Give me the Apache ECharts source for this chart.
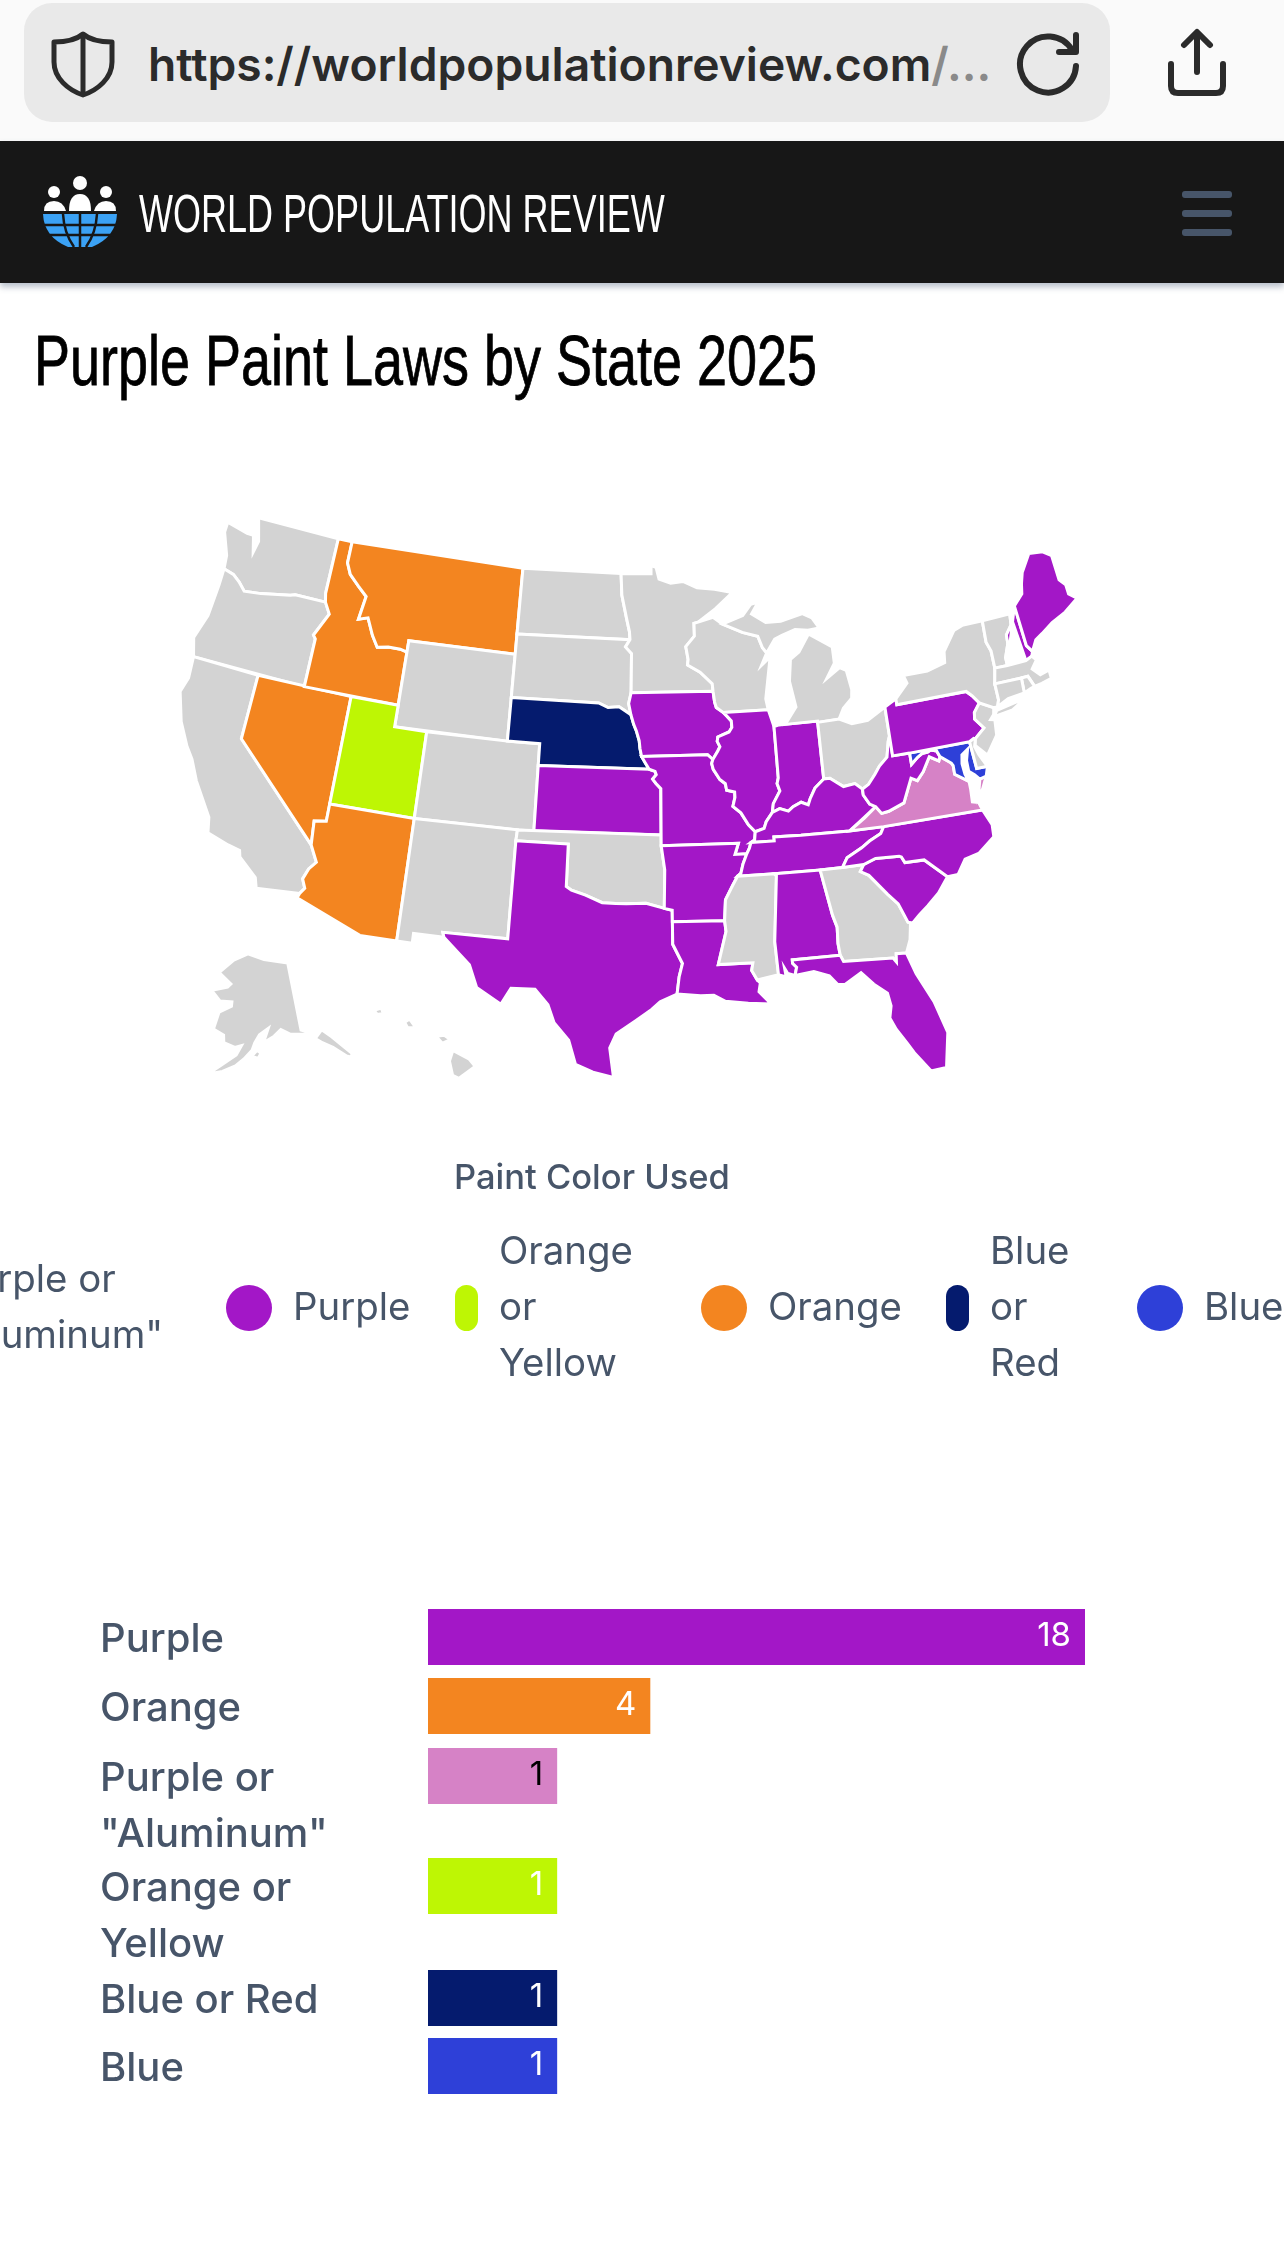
<!DOCTYPE html>
<html lang="en">
<head>
<meta charset="UTF-8">
<title>Purple Paint Laws by State 2025</title>
<script src="https://cdnjs.cloudflare.com/ajax/libs/echarts/6.0.0/echarts.min.js"></script>
<style>
  html,body{margin:0;padding:0;background:#fff;width:1284px;height:2255px;overflow:hidden}
  #chart{position:absolute;left:0;top:0;width:1284px;height:2255px}
  .browser{position:absolute;left:0;top:0;width:1284px;height:141px;background:#fafafa;z-index:2}
  .pill{position:absolute;left:24px;top:3px;width:1086px;height:119px;border-radius:28px;background:#e9e9e9}
  .url{position:absolute;left:148px;top:35px;font:600 46.2px/58px Inter;color:#2b2b2b;white-space:nowrap}
  .url span{color:#8a8a8a}
  .browser svg,.nav svg{position:absolute}
  .nav{position:absolute;left:0;top:141px;width:1284px;height:142px;background:#171717;box-shadow:0 4px 6px rgba(100,116,139,.45);z-index:2}
  .brand{position:absolute;left:139px;top:42px;font:400 54px/60px "Liberation Sans";color:#fff;white-space:nowrap;transform-origin:0 50%;transform:scaleX(0.667)}
  .bar{position:absolute;left:1182px;width:50px;height:7px;border-radius:3px;background:#475569}
</style>
</head>
<body>
<div class="browser">
  <div class="pill"></div>
  <svg style="left:48px;top:30px" width="70" height="68" viewBox="0 0 70 68" fill="none" stroke="#2b2b2b" stroke-width="5" stroke-linejoin="round">
    <path d="M35 4 C28 10 16 12 6 12 L6 32 C6 48 20 60 35 65 C50 60 64 48 64 32 L64 12 C54 12 42 10 35 4 Z"/><path d="M35 4 L35 65"/>
  </svg>
  <div class="url">https://worldpopulationreview.com<span>/...</span></div>
  <svg style="left:1014px;top:30px" width="68" height="66" viewBox="0 0 68 66" fill="none" stroke="#2b2b2b" stroke-width="6" stroke-linecap="round" stroke-linejoin="round">
    <path d="M58 20 A28 28 0 1 0 62 36"/><path d="M62 5 L62 22 L45 22"/>
  </svg>
  <svg style="left:1166px;top:28px" width="62" height="70" viewBox="0 0 62 70" fill="none" stroke="#2b2b2b" stroke-width="6" stroke-linecap="round" stroke-linejoin="round">
    <path d="M31 44 L31 5 M18 17 L31 4 L44 17"/><path d="M5 36 L5 58 Q5 65 12 65 L50 65 Q57 65 57 58 L57 36"/>
  </svg>
</div>
<div class="nav">
  <svg style="left:42px;top:34px" width="76" height="74" viewBox="0 0 76 74">
    <g fill="#fff"><circle cx="38" cy="8" r="7"/><circle cx="12" cy="17" r="6"/><circle cx="64" cy="17" r="6"/>
      <path d="M27 36 Q27 19 38 19 Q49 19 49 36 Z"/><path d="M2 36 Q2 26 12 26 Q21 26 24 36 Z"/><path d="M52 36 Q55 26 64 26 Q74 26 74 36 Z"/></g>
    <path d="M1 39 L75 39 Q74 62 50 72 L26 72 Q2 62 1 39 Z" fill="#3ba2f5"/>
    <g stroke="#171717" stroke-width="2.5" fill="none"><path d="M1 50 L75 50"/><path d="M4 60 L72 60"/><path d="M38 39 L38 74"/><path d="M21 39 Q22 58 32 72"/><path d="M55 39 Q54 58 44 72"/></g>
  </svg>
  <div class="brand">WORLD POPULATION REVIEW</div>
  <div class="bar" style="top:50px"></div><div class="bar" style="top:69px"></div><div class="bar" style="top:88px"></div>
</div>
<div id="chart"></div>
<script>
// bar chart values
var categories = ['Purple', 'Orange', 'Purple or "Aluminum"', 'Orange or Yellow', 'Blue or Red', 'Blue'];
var stateCounts = [18, 4, 1, 1, 1, 1];
var categoryColors = ['#a317c7', '#f38520', '#d682c6', '#bef604', '#051b6e', '#2e40d8'];
var valueLabelColors = ['#fff', '#fff', '#000', '#fff', '#fff', '#fff'];
var tickLabels = ['Purple', 'Orange', 'Purple or\n"Aluminum"', 'Orange or\nYellow', 'Blue or Red', 'Blue'];

// legend order and wrapping
var legendOrder = ['Purple or "Aluminum"', 'Purple', 'Orange or Yellow', 'Orange', 'Blue or Red', 'Blue'];
var legendLabels = ['Purple or\n"Aluminum"', 'Purple', 'Orange\nor\nYellow', 'Orange', 'Blue\nor\nRed', 'Blue'];

// which state has which paint colour
var purpleStates = ['Maine', 'New Hampshire', 'Pennsylvania', 'West Virginia', 'Kentucky', 'Tennessee', 'North Carolina', 'South Carolina', 'Florida', 'Alabama', 'Louisiana', 'Arkansas', 'Missouri', 'Illinois', 'Indiana', 'Iowa', 'Kansas', 'Texas'];
var orangeStates = ['Montana', 'Idaho', 'Nevada', 'Arizona'];
var aluminumStates = ['Virginia'];
var yellowStates = ['Utah'];
var blueRedStates = ['Nebraska'];
var blueStates = ['Maryland'];
var stateGroups = [purpleStates, orangeStates, aluminumStates, yellowStates, blueRedStates, blueStates];

// shared borders, lon/lat
var moRiver = [[-96.45,42.49],[-96.27,42.05],[-96.1,41.75],[-95.92,41.3],[-95.87,40.95],[-95.77,40.58]];
var moRiverSouth = [[-95.77,40.58],[-95.55,40.3],[-95.31,40.0]];
var ksMoRiver = [[-95.31,40.0],[-94.95,39.9],[-94.88,39.75],[-95.1,39.55],[-94.9,39.35],[-94.61,39.11],[-94.62,37.0]];
var stCroix = [[-92.01,46.71],[-92.29,46.66],[-92.29,46.07],[-92.88,45.6],[-92.75,45.0],[-92.8,44.75],[-92.0,44.4],[-91.25,43.85],[-91.22,43.5]];
var iaWi = [[-91.22,43.5],[-91.15,43.0],[-91.06,42.75],[-90.64,42.51]];
var iaIl = [[-90.64,42.51],[-90.42,42.33],[-90.16,42.1],[-90.15,41.8],[-90.34,41.6],[-91.05,41.4],[-91.1,41.2],[-90.95,40.95],[-91.1,40.75],[-91.42,40.38]];
var moIl = [[-91.42,40.38],[-91.5,40.2],[-91.42,39.93],[-91.05,39.45],[-90.73,39.25],[-90.67,38.95],[-90.2,38.85],[-90.2,38.6],[-90.35,38.2],[-89.9,37.88],[-89.5,37.32],[-89.13,36.98]];
var moKy = [[-89.13,36.98],[-89.2,36.6],[-89.42,36.5]];
var moTn = [[-89.42,36.5],[-89.53,36.25],[-89.7,36.0]];
var bootheel = [[-89.7,36.0],[-90.38,36.0],[-90.15,36.5],[-94.62,36.5]];
var arTn = [[-89.7,36.0],[-89.95,35.55],[-90.1,35.13],[-90.3,35.0]];
var arMs = [[-90.3,35.0],[-90.6,34.6],[-91.05,33.95],[-91.15,33.0]];
var laMs = [[-91.15,33.0],[-91.1,32.5],[-91.6,31.0],[-89.73,31.0],[-89.82,30.65],[-89.55,30.2]];
var ilKy = [[-89.13,36.98],[-88.6,37.1],[-88.45,37.4],[-88.05,37.8]];
var inKy = [[-88.05,37.8],[-87.6,37.95],[-87.1,37.8],[-86.8,37.98],[-86.3,38.15],[-85.9,38.0],[-85.75,38.27],[-85.4,38.73],[-84.82,39.1]];
var ohKy = [[-84.82,39.1],[-84.45,39.1],[-83.7,38.65],[-83.0,38.72],[-82.6,38.42]];
var ohWv = [[-82.6,38.42],[-82.2,38.6],[-81.75,39.0],[-81.4,39.35],[-80.87,39.7],[-80.65,40.4],[-80.52,40.64]];
var ilIn = [[-87.53,41.71],[-87.53,39.35],[-87.63,39.1],[-87.5,38.75],[-87.95,38.2],[-88.05,37.8]];
var kyWv = [[-82.6,38.42],[-82.6,38.15],[-82.3,37.7],[-81.97,37.54]];
var kyVa = [[-81.97,37.54],[-82.7,37.1],[-83.67,36.6]];
var kyTn = [[-83.67,36.6],[-86.5,36.65],[-88.07,36.68],[-88.07,36.5],[-89.42,36.5]];
var tnVa = [[-83.67,36.6],[-81.68,36.59]];
var vaNc = [[-81.68,36.59],[-75.87,36.55]];
var tnNc = [[-81.68,36.59],[-81.9,36.3],[-82.6,36.03],[-83.1,35.77],[-84.0,35.4],[-84.32,34.99]];
var tnSouthEast = [[-84.32,34.99],[-85.6,34.98]];
var tnAl = [[-85.6,34.98],[-88.2,35.0]];
var tnMs = [[-88.2,35.0],[-90.3,35.0]];
var ncGa = [[-84.32,34.99],[-83.11,35.0]];
var ncSc = [[-83.11,35.0],[-82.4,35.2],[-81.05,35.15],[-80.93,35.1],[-80.78,34.82],[-79.68,34.8],[-78.55,33.86]];
var scGa = [[-83.11,35.0],[-83.35,34.7],[-82.9,34.48],[-82.0,33.5],[-81.5,33.0],[-81.12,32.1],[-80.87,32.03]];
var gaAl = [[-85.6,34.98],[-85.18,32.87],[-85.0,32.3],[-85.05,31.55],[-85.0,31.0]];
var alFl = [[-85.0,31.0],[-87.6,31.0],[-87.6,30.85],[-87.4,30.65],[-87.52,30.28]];
var gaFl = [[-85.0,31.0],[-84.86,30.7],[-82.2,30.57],[-82.05,30.37],[-82.0,30.75],[-81.45,30.71]];
var msAl = [[-88.2,35.0],[-88.1,34.9],[-88.47,31.9],[-88.4,30.37]];
var redRiver = [[-94.48,33.64],[-95.5,33.88],[-96.6,33.85],[-97.2,33.85],[-97.95,33.88],[-98.9,34.2],[-99.7,34.4],[-100.0,34.56]];
var okAr = [[-94.62,36.5],[-94.43,35.4],[-94.48,33.64]];
var sabine = [[-93.85,29.7],[-93.72,30.5],[-93.53,31.1],[-94.04,31.99],[-94.04,33.02]];
var txAr = [[-94.04,33.02],[-94.04,33.55],[-94.48,33.64]];
var arLa = [[-94.04,33.02],[-91.15,33.0]];
var potomac = [[-76.3,37.95],[-77.05,38.4],[-77.04,38.8],[-77.12,38.93],[-77.72,39.32]];
var vaWv = [[-77.72,39.32],[-77.83,39.13],[-78.35,39.4],[-78.87,38.77],[-79.3,38.42],[-79.65,38.58],[-80.3,37.52],[-81.25,37.25],[-81.68,37.2],[-81.97,37.54]];
var wvMd = [[-79.48,39.72],[-79.48,39.2],[-79.05,39.47],[-78.75,39.6],[-78.4,39.62],[-78.2,39.69],[-77.85,39.6],[-77.72,39.32]];
var masonDixon = [[-80.52,39.72],[-79.48,39.72],[-75.79,39.72]];
var deMd = [[-75.79,39.72],[-75.7,38.46],[-75.05,38.45]];
var delawareRiver = [[-75.4,39.8],[-74.75,40.2],[-75.2,40.68],[-75.13,40.97],[-74.7,41.36]];
var idMt = [[-116.05,48.0],[-115.7,47.5],[-115.0,47.05],[-114.35,46.65],[-114.55,45.55],[-113.95,45.7],[-113.45,44.95],[-113.0,44.45],[-112.3,44.55],[-111.5,44.55],[-111.05,44.47]];
var snake = [[-116.92,46.0],[-116.5,45.5],[-117.2,44.4],[-117.03,44.25],[-117.03,43.8],[-117.03,42.0]];
var columbia = [[-124.0,46.27],[-123.3,46.15],[-122.8,45.9],[-122.3,45.55],[-121.2,45.65],[-119.3,45.93],[-118.98,46.0],[-116.92,46.0]];
var colorado = [[-114.63,35.0],[-114.15,34.27],[-114.5,33.9],[-114.72,33.4],[-114.5,33.0],[-114.72,32.72]];
var nhVt = [[-71.5,45.01],[-71.6,44.5],[-72.05,44.1],[-72.1,43.7],[-72.45,43.1],[-72.46,42.73]];
var mnDak = [[-97.23,49.0],[-97.15,48.0],[-96.8,46.9],[-96.6,46.3],[-96.56,45.94]];
var mnSd = [[-96.56,45.94],[-96.85,45.6],[-96.45,45.3],[-96.45,43.5]];
var neSd = [[-104.05,43.0],[-98.5,43.0],[-97.9,42.8],[-97.2,42.85],[-96.45,42.49]];
var wiMi = [[-90.4,46.57],[-89.1,46.13],[-88.1,45.9],[-87.85,45.35],[-87.6,45.1]];

function rev(line) { return line.slice().reverse(); }
function join() {
    var out = [];
    for (var i = 0; i < arguments.length; i++) { out = out.concat(arguments[i]); }
    return out;
}

var stateShapes = {
    'Washington': [[[-124.7,48.38],[-123.2,48.15],[-122.75,48.15],[-122.45,47.4],[-122.3,47.95],[-122.75,49.0],[-117.03,49.0],[-117.04,46.4]].concat(rev(columbia)).concat([[-124.1,46.9],[-124.7,47.9]])],
    'Oregon': [join(columbia, snake, [[-124.2,42.0],[-124.55,42.84],[-124.1,44.0],[-124.0,45.5]])],
    'California': [join([[-124.2,42.0],[-120.0,42.0],[-120.0,39.0]], colorado, [[-117.12,32.53],[-117.3,33.0],[-118.4,33.75],[-118.5,34.03],[-119.2,34.15],[-120.47,34.45],[-120.65,35.15],[-121.9,36.6],[-122.5,37.5],[-123.0,38.0],[-123.75,39.0],[-124.35,40.3],[-124.1,41.0]])],
    'Nevada': [[[-120.0,42.0],[-114.04,42.0],[-114.05,37.0],[-114.05,36.2],[-114.74,36.1],[-114.63,35.0],[-120.0,39.0]]],
    'Idaho': [join([[-117.03,49.0],[-116.05,49.0]], idMt, [[-111.05,42.0]], rev(snake), [[-117.04,46.4]])],
    'Montana': [join([[-116.05,49.0],[-104.05,49.0],[-104.05,45.0],[-111.05,45.0]], rev(idMt))],
    'Wyoming': [[[-111.05,45.0],[-104.05,45.0],[-104.05,43.0],[-104.05,41.0],[-111.05,41.0],[-111.05,42.0],[-111.05,44.47]]],
    'Utah': [[[-114.04,42.0],[-111.05,42.0],[-111.05,41.0],[-109.05,41.0],[-109.05,37.0],[-114.05,37.0]]],
    'Arizona': [join([[-114.05,37.0],[-109.05,37.0],[-109.05,31.33],[-111.07,31.33],[-114.81,32.5]], rev(colorado), [[-114.74,36.1],[-114.05,36.2]])],
    'Colorado': [[[-109.05,41.0],[-104.05,41.0],[-102.05,41.0],[-102.05,40.0],[-102.04,37.0],[-103.0,37.0],[-109.05,37.0]]],
    'New Mexico': [[[-109.05,37.0],[-103.0,37.0],[-103.04,36.5],[-103.06,32.0],[-106.62,32.0],[-106.53,31.78],[-108.2,31.78],[-108.2,31.33],[-109.05,31.33]]],
    'North Dakota': [join([[-104.05,49.0]], mnDak, [[-104.05,45.94]])],
    'South Dakota': [join([[-104.05,45.94]], mnSd, [[-96.6,43.0],[-96.45,42.49]], rev(neSd))],
    'Nebraska': [join(neSd, moRiver, moRiverSouth, [[-102.05,40.0],[-102.05,41.0],[-104.05,41.0]])],
    'Kansas': [join([[-102.05,40.0]], ksMoRiver, [[-102.04,37.0]])],
    'Oklahoma': [join([[-103.0,37.0],[-94.62,37.0]], okAr, redRiver, [[-100.0,36.5],[-103.04,36.5]])],
    'Texas': [join([[-103.04,36.5],[-100.0,36.5]], rev(redRiver), rev(txAr), rev(sabine), [[-94.75,29.35],[-95.2,29.0],[-96.0,28.5],[-97.05,27.85],[-97.37,27.2],[-97.15,25.84],[-98.2,26.06],[-99.1,26.4],[-99.5,27.5],[-100.3,28.28],[-100.67,29.1],[-101.4,29.77],[-102.68,29.74],[-103.15,28.97],[-104.5,29.65],[-105.0,30.65],[-106.0,31.4],[-106.53,31.78],[-106.62,32.0],[-103.06,32.0]])],
    'Minnesota': [join([[-97.23,49.0],[-95.15,49.0],[-95.15,49.38],[-94.8,49.3],[-94.6,48.75],[-93.8,48.55],[-92.95,48.62],[-92.0,48.3],[-90.8,48.2],[-89.6,48.0],[-90.8,47.3]], stCroix, [[-96.45,43.5]], rev(mnSd), rev(mnDak))],
    'Iowa': [join([[-96.45,43.5]], iaWi, iaIl, [[-91.73,40.61]], rev(moRiver), [[-96.6,43.0]])],
    'Missouri': [join([[-95.77,40.58],[-91.73,40.61]], moIl, moKy, moTn, bootheel, [[-94.62,37.0]], rev(ksMoRiver), rev(moRiverSouth))],
    'Arkansas': [join([[-94.62,36.5]], rev(bootheel), arTn, arMs, rev(arLa), txAr, rev(okAr))],
    'Louisiana': [join(arLa, laMs, [[-89.4,30.05],[-89.5,29.65],[-88.9,29.05],[-90.1,29.15],[-91.3,29.3],[-91.9,29.6],[-92.6,29.6]], sabine)],
    'Wisconsin': [join([[-92.01,46.71],[-91.0,46.9]], wiMi, [[-88.0,44.55],[-87.4,44.9],[-87.9,43.0],[-87.8,42.49]], rev(iaWi), rev(stCroix))],
    'Illinois': [join([[-90.64,42.51],[-87.8,42.49]], ilIn, rev(ilKy), rev(moIl), rev(iaIl))],
    'Indiana': [join([[-87.53,41.71],[-87.2,41.76],[-86.82,41.76],[-84.8,41.76],[-84.8,41.7]], rev(inKy), rev(ilIn))],
    'Michigan': [
        [[-86.82,41.76],[-84.8,41.76],[-84.8,41.7],[-83.45,41.73],[-83.1,42.2],[-82.5,42.6],[-82.42,43.0],[-82.6,43.9],[-83.0,44.07],[-83.9,43.65],[-83.3,44.3],[-83.3,45.05],[-84.75,45.78],[-85.5,45.0],[-86.1,44.7],[-86.3,43.7],[-86.05,42.5]],
        join(wiMi, [[-87.0,45.7],[-86.5,45.85],[-85.6,46.05],[-84.75,45.95],[-84.0,46.0],[-84.4,46.5],[-85.0,46.75],[-86.5,46.5],[-87.5,46.5],[-88.4,46.95],[-87.9,47.47],[-88.4,47.4],[-89.0,46.9]])
    ],
    'Ohio': [join([[-84.8,41.7],[-83.45,41.73],[-82.7,41.45],[-81.7,41.5],[-80.52,41.98]], rev(ohWv), rev(ohKy))],
    'Kentucky': [join(ilKy, inKy, ohKy, kyWv, kyVa, kyTn, rev(moKy))],
    'Tennessee': [join(rev(kyTn), tnVa, tnNc, tnSouthEast, tnAl, tnMs, rev(arTn), rev(moTn))],
    'Mississippi': [join(rev(tnMs), msAl, [[-89.55,30.2]], rev(laMs), rev(arMs))],
    'Alabama': [join(rev(tnAl), gaAl, alFl, [[-87.9,30.4],[-88.05,30.65],[-88.0,30.25]], rev(msAl))],
    'Georgia': [join(rev(tnSouthEast), ncGa, scGa, [[-81.0,32.0],[-81.15,31.3]], rev(gaFl), rev(gaAl))],
    'Florida': [join(rev(alFl), gaFl, [[-81.1,29.7],[-80.4,28.3],[-79.95,26.8],[-80.3,25.2],[-81.1,25.15],[-81.8,26.1],[-82.1,26.6],[-82.55,27.3],[-82.8,27.85],[-82.65,28.4],[-82.75,29.0],[-83.4,29.5],[-84.0,30.1],[-84.9,29.65],[-85.3,29.68],[-85.7,30.12],[-86.5,30.38]])],
    'South Carolina': [join(ncSc, [[-79.2,33.2],[-79.9,32.7],[-80.45,32.35]], rev(scGa))],
    'North Carolina': [join(vaNc, [[-75.5,35.8],[-75.55,35.25],[-76.55,34.65],[-77.4,34.5],[-77.95,33.87]], rev(ncSc), rev(ncGa), rev(tnNc))],
    'Virginia': [
        join(rev(kyVa), tnVa, vaNc, [[-76.0,36.92],[-76.35,37.0],[-76.3,37.6]], potomac, vaWv),
        [[-75.95,37.15],[-75.65,37.95],[-75.24,38.03],[-75.6,37.5]]
    ],
    'West Virginia': [join(ohWv, [[-80.52,39.72]], wvMd, vaWv, rev(kyWv))],
    'Maryland': [join([[-79.48,39.72],[-75.79,39.72]], deMd, [[-75.24,38.03],[-75.65,37.95],[-75.9,38.2],[-76.2,38.4],[-76.2,38.9],[-76.0,39.4],[-76.4,39.2],[-76.5,38.8],[-76.45,38.3]], potomac, rev(wvMd))],
    'Delaware': [join([[-75.79,39.72],[-75.5,39.83],[-75.4,39.8],[-75.55,39.45],[-75.4,39.05]], rev(deMd))],
    'Pennsylvania': [join([[-80.52,41.98],[-79.76,42.27],[-79.76,42.0],[-75.35,42.0],[-75.05,41.75]], rev(delawareRiver), [[-75.5,39.83]], rev(masonDixon), [[-80.52,40.64]])],
    'New Jersey': [join([[-74.7,41.36],[-73.9,41.0],[-74.0,40.7],[-74.25,40.5],[-74.0,40.45],[-74.1,39.75],[-74.9,38.95],[-75.5,39.5]], delawareRiver)],
    'New York': [
        [[-79.76,42.27],[-78.9,42.9],[-79.05,43.27],[-77.5,43.27],[-76.3,43.5],[-76.2,44.0],[-75.3,44.85],[-74.7,45.0],[-73.35,45.0],[-73.43,44.0],[-73.25,43.55],[-73.27,42.75],[-73.5,42.05],[-73.5,41.3],[-73.65,41.0],[-73.9,41.0],[-74.7,41.36],[-75.05,41.75],[-75.35,42.0],[-79.76,42.0]],
        [[-74.0,40.6],[-73.75,40.85],[-72.6,41.0],[-71.9,41.07],[-72.8,40.7]]
    ],
    'Vermont': [join([[-73.35,45.0]], nhVt, [[-73.27,42.75],[-73.25,43.55],[-73.43,44.0]])],
    'New Hampshire': [join(rev(nhVt), [[-71.25,42.74],[-70.82,42.87],[-70.7,43.07],[-70.98,43.4],[-71.08,45.3]])],
    'Maine': [[[-71.08,45.3],[-70.4,45.75],[-70.25,46.2],[-70.0,46.7],[-69.23,47.46],[-68.3,47.36],[-67.79,47.07],[-67.78,45.9],[-67.45,45.6],[-67.45,45.15],[-67.0,44.85],[-68.0,44.4],[-69.0,44.1],[-69.8,43.75],[-70.3,43.55],[-70.7,43.07],[-70.98,43.4]]],
    'Massachusetts': [[[-73.5,42.05],[-73.27,42.75],[-72.46,42.73],[-71.25,42.74],[-70.82,42.87],[-70.6,42.65],[-71.0,42.3],[-70.6,41.95],[-70.0,42.05],[-70.0,41.65],[-70.65,41.55],[-71.13,41.5],[-71.38,42.02],[-71.8,42.02]]],
    'Rhode Island': [[[-71.8,42.02],[-71.38,42.02],[-71.13,41.5],[-71.4,41.45],[-71.85,41.32]]],
    'Connecticut': [[[-73.5,42.05],[-71.8,42.02],[-71.85,41.32],[-72.9,41.25],[-73.65,41.0],[-73.5,41.3]]],
    'Alaska': [
        [[-141,69.6],[-141,60.3],[-139.5,59.9],[-137.5,58.9],[-135.5,59.7],[-133.5,58.4],[-130,55.3],[-130.7,55],[-131.5,55.3],[-134,57],[-136.5,58.1],[-139.5,59.6],[-144,60],[-146.5,60.8],[-148.5,60],[-151.5,59.2],[-150,61.1],[-152.5,60.3],[-153.8,59.2],[-154.5,58.2],[-156.5,57],[-158.5,56],[-161.5,55.1],[-164.8,54.5],[-162,55.9],[-158.5,57.5],[-157.3,58.8],[-159,58.5],[-162,59],[-162.3,60],[-165.3,60.6],[-164.5,63],[-161,64],[-161,64.6],[-164.8,64.5],[-168,65.7],[-163,66.5],[-162,67],[-166.7,68.3],[-162,70.3],[-156.5,71.3],[-150,70.5]],
        [[-154.6,57.4],[-153,57.1],[-152.2,57.8],[-153.2,58.2]],
        [[-168,53.4],[-166.5,53.6],[-166,53.9],[-167.5,53.7]]
    ],
    'Hawaii': [
        [[-155.88,20.25],[-155.1,19.85],[-154.8,19.5],[-155.6,18.95],[-155.9,19.1],[-156.05,19.75]],
        [[-156.7,20.9],[-156.3,20.95],[-156,20.75],[-156.4,20.58]],
        [[-158.25,21.55],[-158,21.7],[-157.7,21.3],[-158.1,21.3]],
        [[-159.75,22.1],[-159.4,22.2],[-159.3,21.95],[-159.6,21.9]]
    ]
};

// albers conic, same idea as d3.geoAlbersUsa with its two insets
var MAP_SCALE = 1243;
function conic(lon, lat, lon0, lat1, lat2, lat0) {
    var r = Math.PI / 180;
    var n = (Math.sin(lat1 * r) + Math.sin(lat2 * r)) / 2;
    var c = Math.pow(Math.cos(lat1 * r), 2) + 2 * n * Math.sin(lat1 * r);
    var rho = Math.sqrt(c - 2 * n * Math.sin(lat * r)) / n;
    var rho0 = Math.sqrt(c - 2 * n * Math.sin(lat0 * r)) / n;
    var t = n * (lon - lon0) * r;
    return [rho * Math.sin(t), rho0 - rho * Math.cos(t)];
}
function project(p) {
    var q;
    if (p[1] > 50) {
        q = conic(p[0], p[1], -154, 55, 65, 60);
        return [254 + q[0] * MAP_SCALE * 0.34, 1037 - q[1] * MAP_SCALE * 0.34];
    }
    if (p[0] < -150) {
        q = conic(p[0], p[1], -157, 8, 18, 20.5);
        return [430 + q[0] * MAP_SCALE, 1045 - q[1] * MAP_SCALE];
    }
    q = conic(p[0], p[1], -95.5, 29.5, 45.5, 37.5);
    return [646 + q[0] * MAP_SCALE, 824 - q[1] * MAP_SCALE];
}

var features = [];
var box = [Infinity, Infinity, -Infinity, -Infinity];
Object.keys(stateShapes).forEach(function (name) {
    var rings = stateShapes[name].map(function (ring) {
        ring.forEach(function (pt) {
            var xy = project(pt);
            box[0] = Math.min(box[0], xy[0]);
            box[1] = Math.min(box[1], xy[1]);
            box[2] = Math.max(box[2], xy[0]);
            box[3] = Math.max(box[3], xy[1]);
        });
        return [ring.concat([ring[0]])];
    });
    features.push({ type: 'Feature', properties: { name: name }, geometry: { type: 'MultiPolygon', coordinates: rings } });
});
echarts.registerMap('USA', { type: 'FeatureCollection', features: features });

var mapData = [];
stateGroups.forEach(function (group, i) {
    group.forEach(function (name) {
        mapData.push({ name: name, value: i, itemStyle: { areaColor: categoryColors[i] } });
    });
});

var chart = echarts.init(document.getElementById('chart'));

// rows of the bar list are not evenly spaced because the labels wrap
var rowTops = [1609, 1678, 1748, 1858, 1970, 2038];
var rowHeight = 56;
var grids = [], xAxes = [], yAxes = [];
var series = [{
    type: 'map',
    map: 'USA',
    projection: { project: project, unproject: function (p) { return p; } },
    left: box[0],
    top: box[1],
    width: box[2] - box[0],
    height: box[3] - box[1],
    silent: true,
    roam: false,
    showLegendSymbol: false,
    label: { show: false },
    itemStyle: { areaColor: '#d3d3d3', borderColor: '#fff', borderWidth: 3 },
    emphasis: { disabled: true },
    data: mapData
}];
categories.forEach(function (name, i) {
    grids.push({ left: 428, width: 657, top: rowTops[i], height: rowHeight });
    xAxes.push({ type: 'value', gridIndex: i, min: -3.16, max: 18, startValue: -3.16, show: false });
    yAxes.push({
        type: 'category', gridIndex: i, data: [name],
        axisLine: { show: false }, axisTick: { show: false },
        axisLabel: {
            margin: 328, align: 'left',
            // first text line sits 3px under the bar centre, extra lines hang below it
            formatter: function () {
                var lines = tickLabels[i].split('\n');
                var spacer = lines.length > 1 ? 'tall' : 'short';
                return '{' + spacer + '|\u00a0}\n' + lines.map(function (t) { return '{row|' + t + '}'; }).join('\n');
            },
            rich: {
                short: { fontSize: 1, lineHeight: 6, height: 6 },
                tall: { fontSize: 1, lineHeight: 62, height: 62 },
                row: { color: '#475569', fontFamily: 'Inter', fontWeight: 500, fontSize: 40, lineHeight: 56, height: 56, align: 'left' }
            }
        }
    });
    series.push({
        type: 'bar', name: name, xAxisIndex: i, yAxisIndex: i, barWidth: rowHeight, silent: true,
        itemStyle: { color: categoryColors[i] },
        label: { show: true, position: 'insideRight', distance: 14, offset: [0, -1], color: valueLabelColors[i], fontFamily: 'Inter', fontSize: 33 },
        data: [stateCounts[i]]
    });
});

// one legend per item: the symbols have different widths and the row runs off both edges
var pillIcon = 'path://M11.5 0A11.5 11.5 0 0 1 23 11.5L23 34.5A11.5 11.5 0 0 1 0 34.5L0 11.5A11.5 11.5 0 0 1 11.5 0Z';
var legendLeft = [-117, 226, 455, 701, 946, 1137];
var legendSymbolW = [46, 46, 23, 46, 23, 46];
var legends = legendOrder.map(function (name, i) {
    var lines = legendLabels[i].split('\n').length;
    return {
        data: [{ name: name, icon: legendSymbolW[i] < 46 ? pillIcon : 'circle' }],
        left: legendLeft[i], top: 1308 - lines * 28, padding: 0, selectedMode: false,
        itemWidth: legendSymbolW[i], itemHeight: 46, itemGap: 0, symbolKeepAspect: false,
        formatter: function () { return legendLabels[i]; },
        textStyle: { color: '#475569', fontFamily: 'Inter', fontSize: 38.4, lineHeight: 56, padding: [0, 0, 0, 16] }
    };
});

chart.setOption({
    animation: false,
    title: [
        { text: 'Paint Color Used', left: 454, top: 1161, padding: 0,
          textStyle: { color: '#475569', fontFamily: 'Inter', fontWeight: 500, fontSize: 34.5 } }
    ],
    // no narrow font is installed, so the page heading is squeezed
    graphic: [{
        type: 'text', x: 34, y: 365, scaleX: 0.76, silent: true,
        style: { text: 'Purple Paint Laws by State 2025', fill: '#000', stroke: '#000', lineWidth: 0.8, font: '400 71px "Liberation Sans"', verticalAlign: 'middle' }
    }],
    legend: legends,
    grid: grids,
    xAxis: xAxes,
    yAxis: yAxes,
    series: series
});
</script>
</body>
</html>
